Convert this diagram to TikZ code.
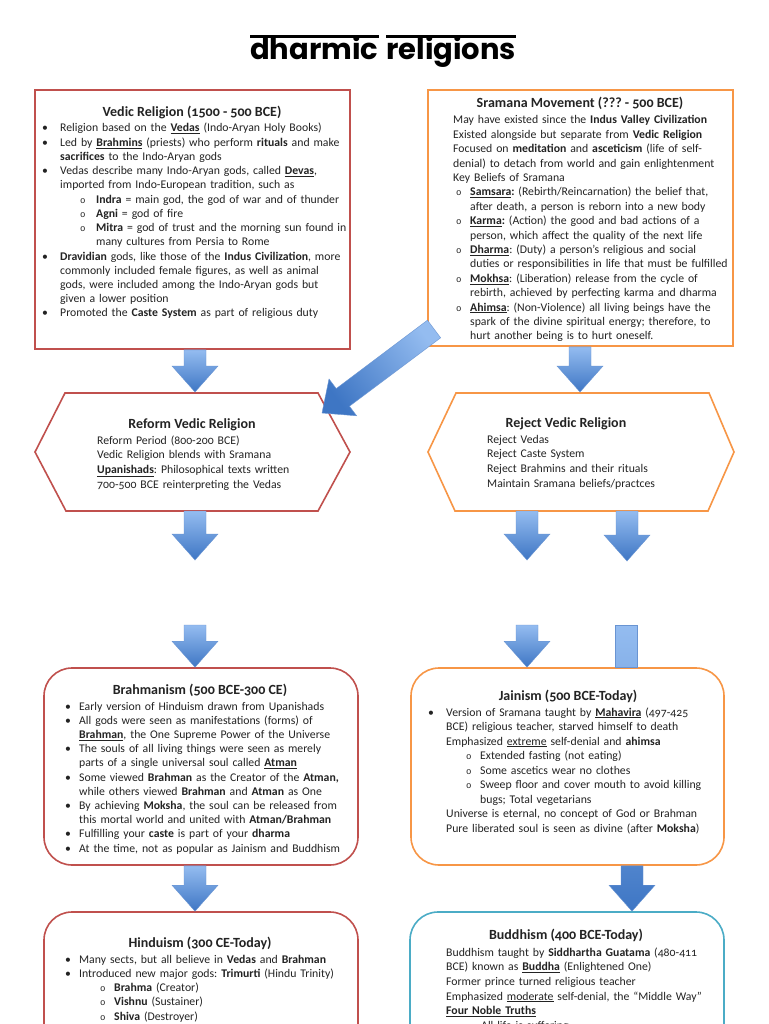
\documentclass[tikz,border=0pt]{standalone}
\usepackage{fontspec}
\setmainfont{Carlito}[Numbers=OldStyle]
\newfontfamily\titlefont{Poppins}
\newfontfamily\circfont{Liberation Mono}
\usetikzlibrary{calc, positioning}
\definecolor{vedRed}{RGB}{192, 80, 77}
\definecolor{sraOrange}{RGB}{247, 150, 70}
\definecolor{budBlue}{RGB}{75, 172, 198}
\definecolor{arrLight}{RGB}{148, 188, 240}
\definecolor{arrDark}{RGB}{62, 118, 196}
\definecolor{arrEdge}{RGB}{105, 148, 210}
\definecolor{txtInk}{RGB}{35, 35, 35}
\frenchspacing
\newlength\bulw \newlength\subx \newlength\subw
\newcommand{\bitem}[1]{\hangindent=\bulw\hangafter=1\noindent\hbox to \bulw{\textbullet\hfil}#1\par}
\newcommand{\pitem}[1]{\hangindent=\bulw\hangafter=1\noindent\hspace*{\bulw}#1\par}
\newcommand{\sitem}[1]{\hangindent=\dimexpr\subx+\subw\relax\hangafter=1\noindent\hspace*{\subx}\hbox to \subw{\circfont\fontsize{9}{10}\selectfont o\hfil}#1\par}
\newcommand{\ubf}[1]{\underline{\textbf{#1}}}
\newcommand{\blockarrow}[3][arrowfill]{% tail #2, tip #3
  \coordinate (ahb) at ($(#3)!26pt!(#2)$);
  \shade[#1] ($(#2)!11pt!90:(#3)$) -- ($(ahb)!11pt!-90:(#2)$) -- ($(ahb)!23pt!-90:(#2)$) -- (#3)
    -- ($(ahb)!23pt!90:(#2)$) -- ($(ahb)!11pt!90:(#2)$) -- ($(#2)!11pt!-90:(#3)$) -- cycle;}
\tikzset{
  framebox/.style={draw=#1, line width=1.6pt, fill=white, inner sep=0pt},
  roundbox/.style={draw=#1, line width=1.6pt, fill=white, inner sep=0pt, rounded corners=28pt},
  hexbox/.style={draw=#1, line width=1.6pt, fill=white, line join=miter},
  headtext/.style={anchor=base, inner sep=0pt, text=txtInk, font=\fontsize{14}{16}\selectfont\bfseries},
  bodytext/.style={anchor=base west, inner sep=0pt, align=left, text width=#1, text=txtInk},
  titletext/.style={anchor=base west, inner sep=0pt, font=\titlefont\bfseries\fontsize{29}{32}\selectfont},
  arrowfill/.style={top color=arrLight, bottom color=arrDark, draw=arrEdge, line width=0.4pt},
}
\begin{document}
\begin{tikzpicture}[x=1pt, y=-1pt]
  \useasboundingbox (0,0) rectangle (768,1024);
  \clip (0,0) rectangle (768,1024);
  \fill[white] (0,0) rectangle (768,1024);

  % title
  \node[titletext] (ttlA) at (250,60) {dharmic};
  \node[titletext] (ttlB) at (386,60) {religions};
  \draw[line width=3.5pt] (ttlA.north west) -- (ttlA.north east);
  \draw[line width=3.5pt] (ttlB.north west) -- (ttlB.north east);

  % top row
  \node[framebox=vedRed, minimum width=315pt, minimum height=259pt] (vedic) at (192.5,219.5) {};
  \node[framebox=sraOrange, minimum width=305pt, minimum height=256pt] (sramana) at (580.5,218) {};

  \node[headtext] (vedichead) at (192,117) {Vedic Religion (1500 - 500 BCE)};
  \node[bodytext=310pt, font=\fontsize{11.75}{14.23}\selectfont] (vedictxt) at (42,132) {%
    \setlength\bulw{18pt}\setlength\subx{38pt}\setlength\subw{16pt}%
    \bitem{Religion based on the \ubf{Vedas} (Indo-Aryan Holy Books)}
    \bitem{Led by \ubf{Brahmins} (priests) who perform \textbf{rituals} and make\newline \textbf{sacrifices} to the Indo-Aryan gods}
    \bitem{Vedas describe many Indo-Aryan gods, called \ubf{Devas},\newline imported from Indo-European tradition, such as}
    \sitem{\textbf{Indra} = main god, the god of war and of thunder}
    \sitem{\textbf{Agni} = god of fire}
    \sitem{\textbf{Mitra} = god of trust and the morning sun found in\newline many cultures from Persia to Rome}
    \bitem{\textbf{Dravidian} gods, like those of the \textbf{Indus Civilization}, more\newline commonly included female figures, as well as animal\newline gods, were included among the Indo-Aryan gods but\newline given a lower position}
    \bitem{Promoted the \textbf{Caste System} as part of religious duty}};

  \node[headtext] (sramanahead) at (580,108) {Sramana Movement (??? - 500 BCE)};
  \node[bodytext=280pt, font=\fontsize{11.75}{14.4}\selectfont] (sramanatxt) at (453,124) {%
    \setlength\bulw{0pt}\setlength\subx{3pt}\setlength\subw{14pt}%
    \pitem{May have existed since the \textbf{Indus Valley Civilization}}
    \pitem{Existed alongside but separate from \textbf{Vedic Religion}}
    \pitem{Focused on \textbf{meditation} and \textbf{asceticism} (life of self-\newline denial) to detach from world and gain enlightenment}
    \pitem{Key Beliefs of Sramana}
    \sitem{\ubf{Samsara}\textbf{:} (Rebirth/Reincarnation) the belief that,\newline after death, a person is reborn into a new body}
    \sitem{\ubf{Karma}\textbf{:} (Action) the good and bad actions of a\newline person, which affect the quality of the next life}
    \sitem{\ubf{Dharma}: (Duty) a person’s religious and social\newline duties or responsibilities in life that must be fulfilled}
    \sitem{\ubf{Mokhsa}: (Liberation) release from the cycle of\newline rebirth, achieved by perfecting karma and dharma}
    \sitem{\ubf{Ahimsa}: (Non-Violence) all living beings have the\newline spark of the divine spiritual energy; therefore, to\newline hurt another being is to hurt oneself.}};

  % second row
  \draw[hexbox=vedRed] (35,452) -- (65,393) -- (318,393) -- (350,452) -- (318,511) -- (66,511) -- cycle;
  \draw[hexbox=sraOrange] (428,452) -- (456,393) -- (709,393) -- (734,452) -- (708,511) -- (455,511) -- cycle;
  \coordinate (reformN) at (195,392);
  \coordinate (reformNE) at (322,413);
  \coordinate (rejectN) at (580,392);
  \coordinate (reformS) at (195,511);
  \coordinate (rejectSa) at (527,511);
  \coordinate (rejectSb) at (627,511);
  \coordinate (sramanaSW) at (434,329);

  \node[headtext] (reformhead) at (192,428) {Reform Vedic Religion};
  \node[bodytext=250pt, font=\fontsize{11.75}{14.67}\selectfont] (reformtxt) at (97,444) {%
    Reform Period (800-200 BCE)\newline
    Vedic Religion blends with Sramana\newline
    \ubf{Upanishads}: Philosophical texts written\newline
    700-500 BCE reinterpreting the Vedas};

  \node[headtext] (rejecthead) at (566,427) {Reject Vedic Religion};
  \node[bodytext=230pt, font=\fontsize{11.75}{14.67}\selectfont] (rejecttxt) at (487,443) {%
    Reject Vedas\newline
    Reject Caste System\newline
    Reject Brahmins and their rituals\newline
    Maintain Sramana beliefs/practces};

  % free ends of the split arrows
  \coordinate (gapA) at (195,560);
  \coordinate (gapBa) at (527,560);
  \coordinate (gapBb) at (627,561);
  \coordinate (joinA) at (195,625);
  \coordinate (joinBa) at (527,625);
  \coordinate (joinBb) at (626,625);

  % third row
  \node[roundbox=vedRed, minimum width=314pt, minimum height=197pt] (brahman) at (201,766.5) {};
  \node[roundbox=sraOrange, minimum width=313pt, minimum height=197pt] (jain) at (567.5,766.5) {};

  \node[headtext] (brahmanhead) at (200,694) {Brahmanism (500 BCE-300 CE)};
  \node[bodytext=290pt, font=\fontsize{11.75}{14.2}\selectfont] (brahmantxt) at (65,710) {%
    \setlength\bulw{14pt}%
    \bitem{Early version of Hinduism drawn from Upanishads}
    \bitem{All gods were seen as manifestations (forms) of\newline \ubf{Brahman}, the One Supreme Power of the Universe}
    \bitem{The souls of all living things were seen as merely\newline parts of a single universal soul called \ubf{Atman}}
    \bitem{Some viewed \textbf{Brahman} as the Creator of the \textbf{Atman,}\newline while others viewed \textbf{Brahman} and \textbf{Atman} as One}
    \bitem{By achieving \textbf{Moksha}, the soul can be released from\newline this mortal world and united with \textbf{Atman/Brahman}}
    \bitem{Fulfilling your \textbf{caste} is part of your \textbf{dharma}}
    \bitem{At the time, not as popular as Jainism and Buddhism}};

  \node[headtext] (jainhead) at (568,700) {Jainism (500 BCE-Today)};
  \node[bodytext=292pt, font=\fontsize{11.75}{14.5}\selectfont] (jaintxt) at (428,716) {%
    \setlength\bulw{18pt}\setlength\subx{38pt}\setlength\subw{14pt}%
    \bitem{Version of Sramana taught by \ubf{Mahavira} (497-425\newline BCE) religious teacher, starved himself to death}
    \pitem{Emphasized \underline{extreme} self-denial and \textbf{ahimsa}}
    \sitem{Extended fasting (not eating)}
    \sitem{Some ascetics wear no clothes}
    \sitem{Sweep floor and cover mouth to avoid killing\newline bugs; Total vegetarians}
    \pitem{Universe is eternal, no concept of God or Brahman}
    \pitem{Pure liberated soul is seen as divine (after \textbf{Moksha})}};

  % fourth row
  \node[roundbox=vedRed, minimum width=314pt, minimum height=220pt] (hindu) at (201,1022) {};
  \node[roundbox=budBlue, minimum width=314pt, minimum height=220pt] (buddh) at (567,1022) {};

  \node[headtext] (hinduhead) at (200,947) {Hinduism (300 CE-Today)};
  \node[bodytext=290pt, font=\fontsize{11.75}{14.25}\selectfont] (hindutxt) at (65,963) {%
    \setlength\bulw{14pt}\setlength\subx{35pt}\setlength\subw{14pt}%
    \bitem{Many sects, but all believe in \textbf{Vedas} and \textbf{Brahman}}
    \bitem{Introduced new major gods: \textbf{Trimurti} (Hindu Trinity)}
    \sitem{\textbf{Brahma} (Creator)}
    \sitem{\textbf{Vishnu} (Sustainer)}
    \sitem{\textbf{Shiva} (Destroyer)}};

  \node[headtext] (buddhhead) at (566,939) {Buddhism (400 BCE-Today)};
  \node[bodytext=278pt, font=\fontsize{11.75}{14.7}\selectfont] (buddhtxt) at (446,956) {%
    \setlength\bulw{0pt}\setlength\subx{20pt}\setlength\subw{15pt}%
    \pitem{Buddhism taught by \textbf{Siddhartha Guatama} (480-411\newline BCE) known as \ubf{Buddha} (Enlightened One)}
    \pitem{Former prince turned religious teacher}
    \pitem{Emphasized \underline{moderate} self-denial, the “Middle Way”}
    \pitem{\ubf{Four Noble Truths}}
    \sitem{All life is suffering}};

  % block arrows
  \blockarrow{vedic.south -| reformN}{reformN}
  \blockarrow{sramana.south -| rejectN}{rejectN}
  \blockarrow[top color=arrLight, bottom color=arrDark, shading angle=-53, draw=arrEdge, line width=0.4pt]{sramanaSW}{reformNE}
  \blockarrow{reformS}{gapA}
  \blockarrow{rejectSa}{gapBa}
  \blockarrow{rejectSb}{gapBb}
  \blockarrow{joinA}{brahman.north -| joinA}
  \blockarrow{joinBa}{jain.north -| joinBa}
  \shade[top color=arrLight, bottom color=arrLight!85!arrDark, draw=arrEdge, line width=0.4pt]
    ($(joinBb)+(-11,0)$) rectangle ($(jain.north -| joinBb)+(11,0)$);
  \blockarrow{brahman.south -| joinA}{hindu.north -| joinA}
  \blockarrow[top color=arrDark!80!arrLight, bottom color=arrDark, draw=arrEdge, line width=0.4pt]{jain.south -| 632,0}{buddh.north -| 632,0}
\end{tikzpicture}
\end{document}
